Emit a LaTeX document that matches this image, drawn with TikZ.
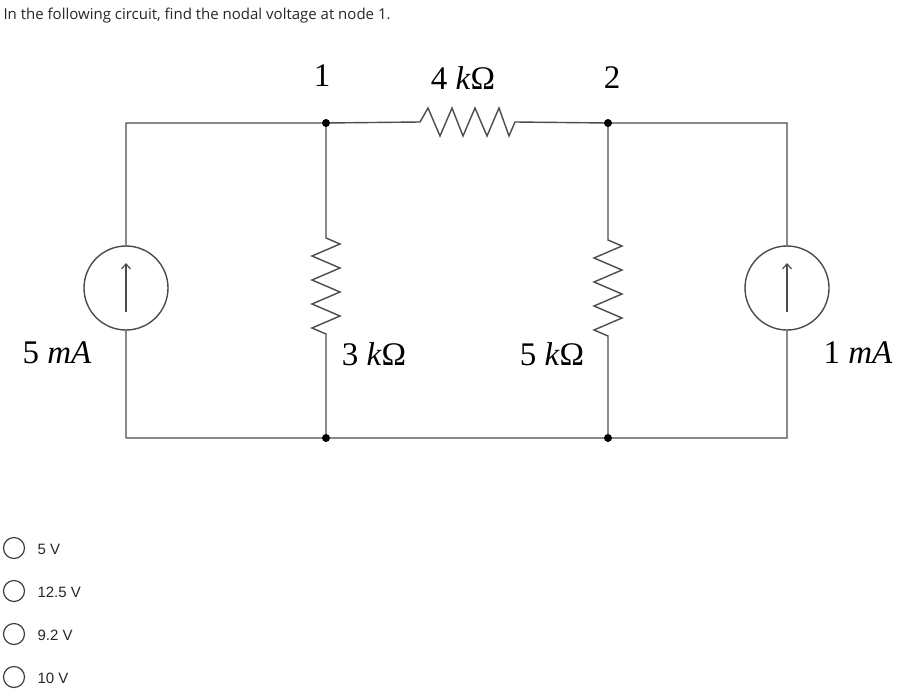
\documentclass[tikz,border=0pt]{standalone}
\usepackage{fontspec}
\setmainfont{Liberation Serif}
\setsansfont{Open Sans}
\newfontfamily\optfont{Liberation Sans}
\usetikzlibrary{arrows.meta}
\begin{document}
\begin{tikzpicture}[x=1pt,y=-1pt,
  wire/.style={draw=black!70,line width=1.4pt},
  junc/.style={circle,fill=black,inner sep=0pt,minimum size=8pt},
  src/.style={circle,draw=black!70,line width=1.4pt,minimum size=84pt,inner sep=0pt,fill=white},
  lab/.style={font=\fontsize{33}{36}\selectfont},
  opt/.style={circle,draw=black!75,line width=1.2pt,minimum size=21pt,inner sep=0pt},
  optlab/.style={font=\optfont\fontsize{15}{17}\selectfont,anchor=west,text=black!85}]
\useasboundingbox (0,0) rectangle (917,698);
\node[anchor=west,font=\sffamily\fontsize{15}{17}\selectfont,text=black!85] (title) at (0,16) {In the following circuit, find the nodal voltage at node 1.};
\coordinate (tl) at (126,123); \coordinate (n1) at (326,123);
\coordinate (n2) at (608,123); \coordinate (tr) at (787,123);
\coordinate (bl) at (126,438); \coordinate (b1) at (326,438);
\coordinate (b2) at (608,438); \coordinate (br) at (787,438);
% wires
\draw[wire] (bl) -- (tl) -- (n1) -- (420,122) -- (428,108) -- (440,136) -- (452,108) -- (463,136) -- (475,108) -- (487,136) -- (499,108) -- (509,136) -- (515,122) -- (n2) -- (tr) -- (br) -- (bl);
\draw[wire] (n1) -- (326,238) -- (340,244) -- (312,256) -- (340,268) -- (312,280) -- (340,292) -- (312,304) -- (340,316) -- (312,328) -- (326,334) -- (b1);
\draw[wire] (n2) -- (608,240) -- (622,246) -- (594,258) -- (622,270) -- (594,282) -- (622,294) -- (594,306) -- (622,318) -- (594,330) -- (608,336) -- (b2);
% sources
\node[src] (s1) at (126,288) {};
\node[src] (s2) at (787,288) {};
\draw[black!70,line width=1.2pt,-{Straight Barb[length=5pt,width=9pt]}] (126,312) -- (126,263);
\draw[black!70,line width=1.2pt,-{Straight Barb[length=5pt,width=9pt]}] (787,312) -- (787,263);
% junctions
\foreach \p in {n1,n2,b1,b2} \node[junc] at (\p) {};
% labels
\node[lab] (l1) at (322,76) {1};
\node[lab] (l4) at (463,78) {4 \textit{k}Ω};
\node[lab] (l2) at (612,78) {2};
\node[lab] (l5ma) at (57,353) {5 \textit{mA}};
\node[lab] (l3k) at (374,354) {3 \textit{k}Ω};
\node[lab] (l5k) at (552,354) {5 \textit{k}Ω};
\node[lab] (l1ma) at (858,353) {1 \textit{mA}};
% options
\node[opt] (o1) at (14,548) {}; \node[optlab] at (34,549) {5 V};
\node[opt] (o2) at (14,591) {}; \node[optlab] at (34,592) {12.5 V};
\node[opt] (o3) at (14,634) {}; \node[optlab] at (34,635) {9.2 V};
\node[opt] (o4) at (14,677) {}; \node[optlab] at (34,678) {10 V};
\end{tikzpicture}
\end{document}
